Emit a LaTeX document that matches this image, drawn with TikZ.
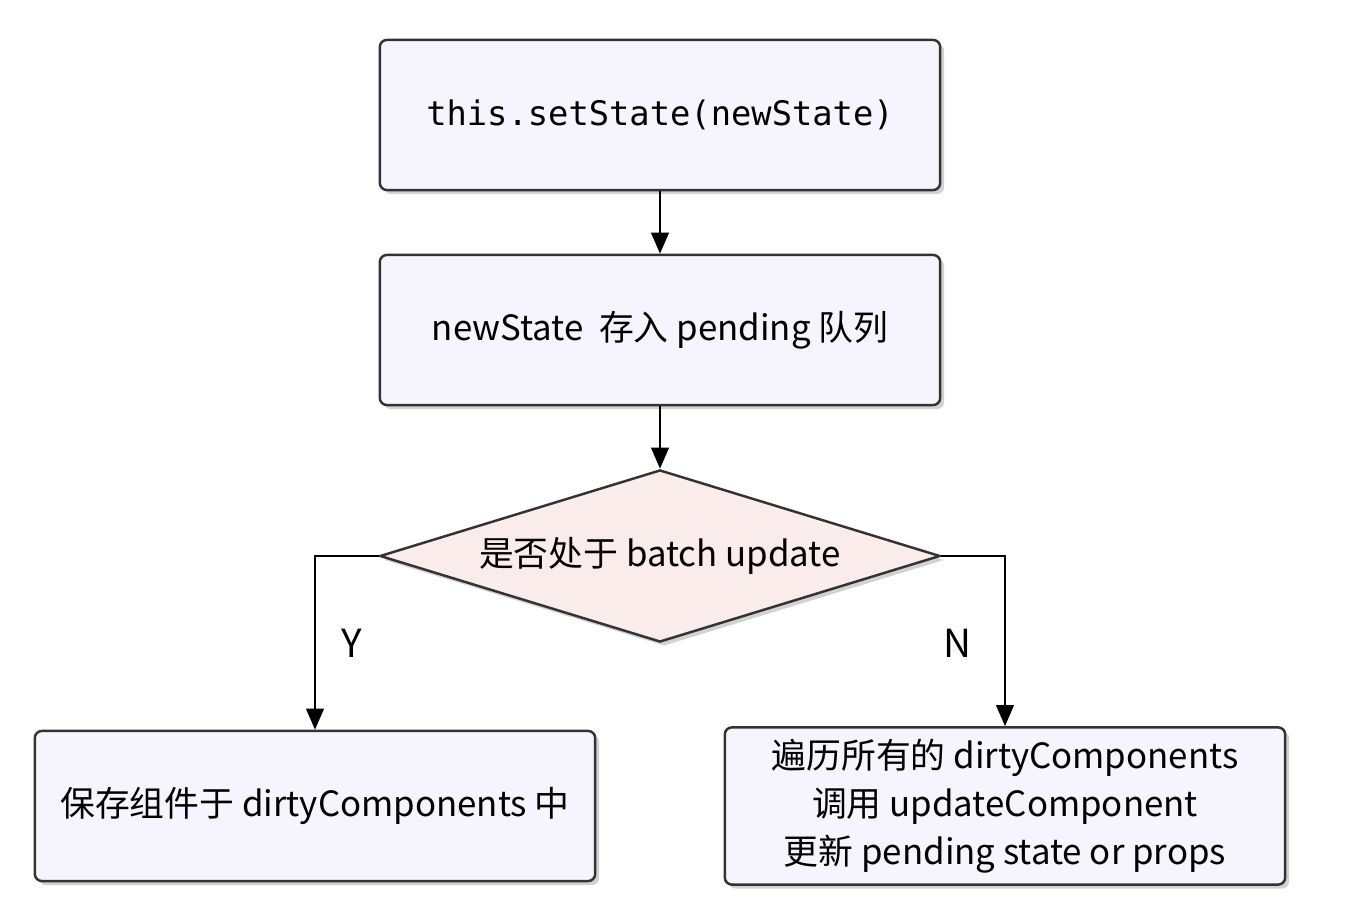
\documentclass[tikz,border=0pt]{standalone}
\usepackage{fontspec}
\setmainfont{Noto Sans CJK SC}
\newfontfamily\monof{DejaVu Sans Mono}
\usetikzlibrary{shapes.geometric,arrows.meta,shadows}
\definecolor{boxfill}{HTML}{F6F5FD}
\definecolor{diafill}{HTML}{FBECEC}
\definecolor{edge}{HTML}{333333}
\tikzset{
  x=0.01cm,y=-0.01cm,
  every node/.style={font=\fontsize{9.9}{13.6}\selectfont},
  box/.style={draw=edge,line width=0.7pt,fill=boxfill,rounded corners=2pt,minimum width=5.6cm,minimum height=1.5cm,align=center,drop shadow={opacity=0.35,shadow xshift=0.04cm,shadow yshift=-0.04cm}},
  dia/.style={draw=edge,line width=0.7pt,fill=diafill,diamond,aspect=3.26,minimum width=5.6cm,minimum height=1.72cm,inner sep=0pt,drop shadow={opacity=0.35,shadow xshift=0.04cm,shadow yshift=-0.04cm}},
  arr/.style={-{Triangle[length=6pt,width=5pt]},line width=0.7pt,draw=black},
  lab/.style={font=\fontsize{11}{13}\selectfont}
}
\begin{document}
\begin{tikzpicture}
\useasboundingbox[fill=white] (0,0) rectangle (1354,910);
\node[box] (a) at (660,115) {\fontsize{9.6}{13}\selectfont\monof this.setState(newState)};
\node[box] (b) at (660,330) {newState\ \ 存入 pending 队列};
\node[dia] (c) at (660,556) {是否处于 batch update};
\node[box] (d) at (315,806) {保存组件于 dirtyComponents 中};
\node[box] (e) at (1005,806) {遍历所有的 dirtyComponents\\调用 updateComponent\\更新 pending state or props};
\draw[arr] (a) -- (b);
\draw[arr] (b) -- (c);
\draw[arr] (c.west) -| (d.north);
\draw[arr] (c.east) -| (e.north);
\node[lab] (y) at (352,643) {Y};
\node[lab] (n) at (957,643) {N};
\end{tikzpicture}
\end{document}
